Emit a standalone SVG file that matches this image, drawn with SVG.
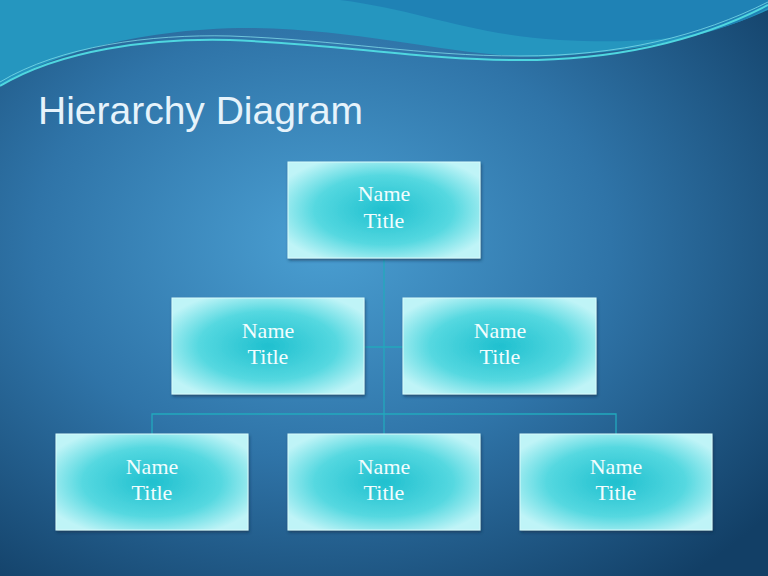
<svg xmlns="http://www.w3.org/2000/svg" width="768" height="576" viewBox="0 0 768 576">
<defs>
<radialGradient id="bg" cx="0.42" cy="0.42" r="0.75">
<stop offset="0" stop-color="#4a9fd2"/><stop offset="0.5" stop-color="#2f74a8"/><stop offset="1" stop-color="#123f66"/>
</radialGradient>
<radialGradient id="box" cx="0.5" cy="0.5" r="0.6">
<stop offset="0" stop-color="#1fc0cf"/><stop offset="0.6" stop-color="#55d8e0"/><stop offset="1" stop-color="#bff4f7"/>
</radialGradient>
<filter id="sh" x="-5%" y="-5%" width="115%" height="120%"><feDropShadow dx="1" dy="2" stdDeviation="1.5" flood-color="#0a2d4a" flood-opacity="0.6"/></filter>
</defs>
<style>
.b{fill:url(#box);stroke:#d8fbfc;stroke-width:1;filter:url(#sh)}
.t{font-family:"Liberation Serif",serif;font-size:22px;fill:#f2fdfe;text-anchor:middle}
.c{stroke:#22a9bd;stroke-width:1.3;fill:none}
</style>
<rect width="768" height="576" fill="url(#bg)"/>
<path d="M0,0 H768 V10 C700,40 640,50 560,56 C470,62 380,30 250,28 C130,28 40,60 0,86 Z" fill="#2596bf"/>
<path d="M340,0 H768 V8 C720,35 660,45 560,40 C470,35 420,10 340,0 Z" fill="#1f82b5"/>
<path d="M0,86 C60,50 150,38 230,40 C340,44 420,60 520,60 C620,60 700,40 768,5" stroke="#4fd7e0" stroke-width="2" fill="none"/>
<path d="M0,82 C60,46 150,34 230,36 C340,40 420,56 520,56 C620,56 700,36 768,2" stroke="#89e6ef" stroke-width="1" fill="none" opacity="0.7"/>
<text x="38" y="124" font-family="Liberation Sans,sans-serif" font-size="39" fill="#e6f3fb">Hierarchy Diagram</text>
<g id="connectors" class="c">
<path d="M384,258 V434"/><path d="M364,347 H403"/><path d="M152,434 V414 H616 V434"/>
</g>
<g id="n1"><rect class="b" x="288" y="162" width="192" height="96"/><text class="t" x="384" y="201">Name</text><text class="t" x="384" y="228">Title</text></g>
<g id="n2"><rect class="b" x="172" y="298" width="192" height="96"/><text class="t" x="268" y="338">Name</text><text class="t" x="268" y="364">Title</text></g>
<g id="n3"><rect class="b" x="403" y="298" width="193" height="96"/><text class="t" x="500" y="338">Name</text><text class="t" x="500" y="364">Title</text></g>
<g id="n4"><rect class="b" x="56" y="434" width="192" height="96"/><text class="t" x="152" y="474">Name</text><text class="t" x="152" y="500">Title</text></g>
<g id="n5"><rect class="b" x="288" y="434" width="192" height="96"/><text class="t" x="384" y="474">Name</text><text class="t" x="384" y="500">Title</text></g>
<g id="n6"><rect class="b" x="520" y="434" width="192" height="96"/><text class="t" x="616" y="474">Name</text><text class="t" x="616" y="500">Title</text></g>
</svg>
